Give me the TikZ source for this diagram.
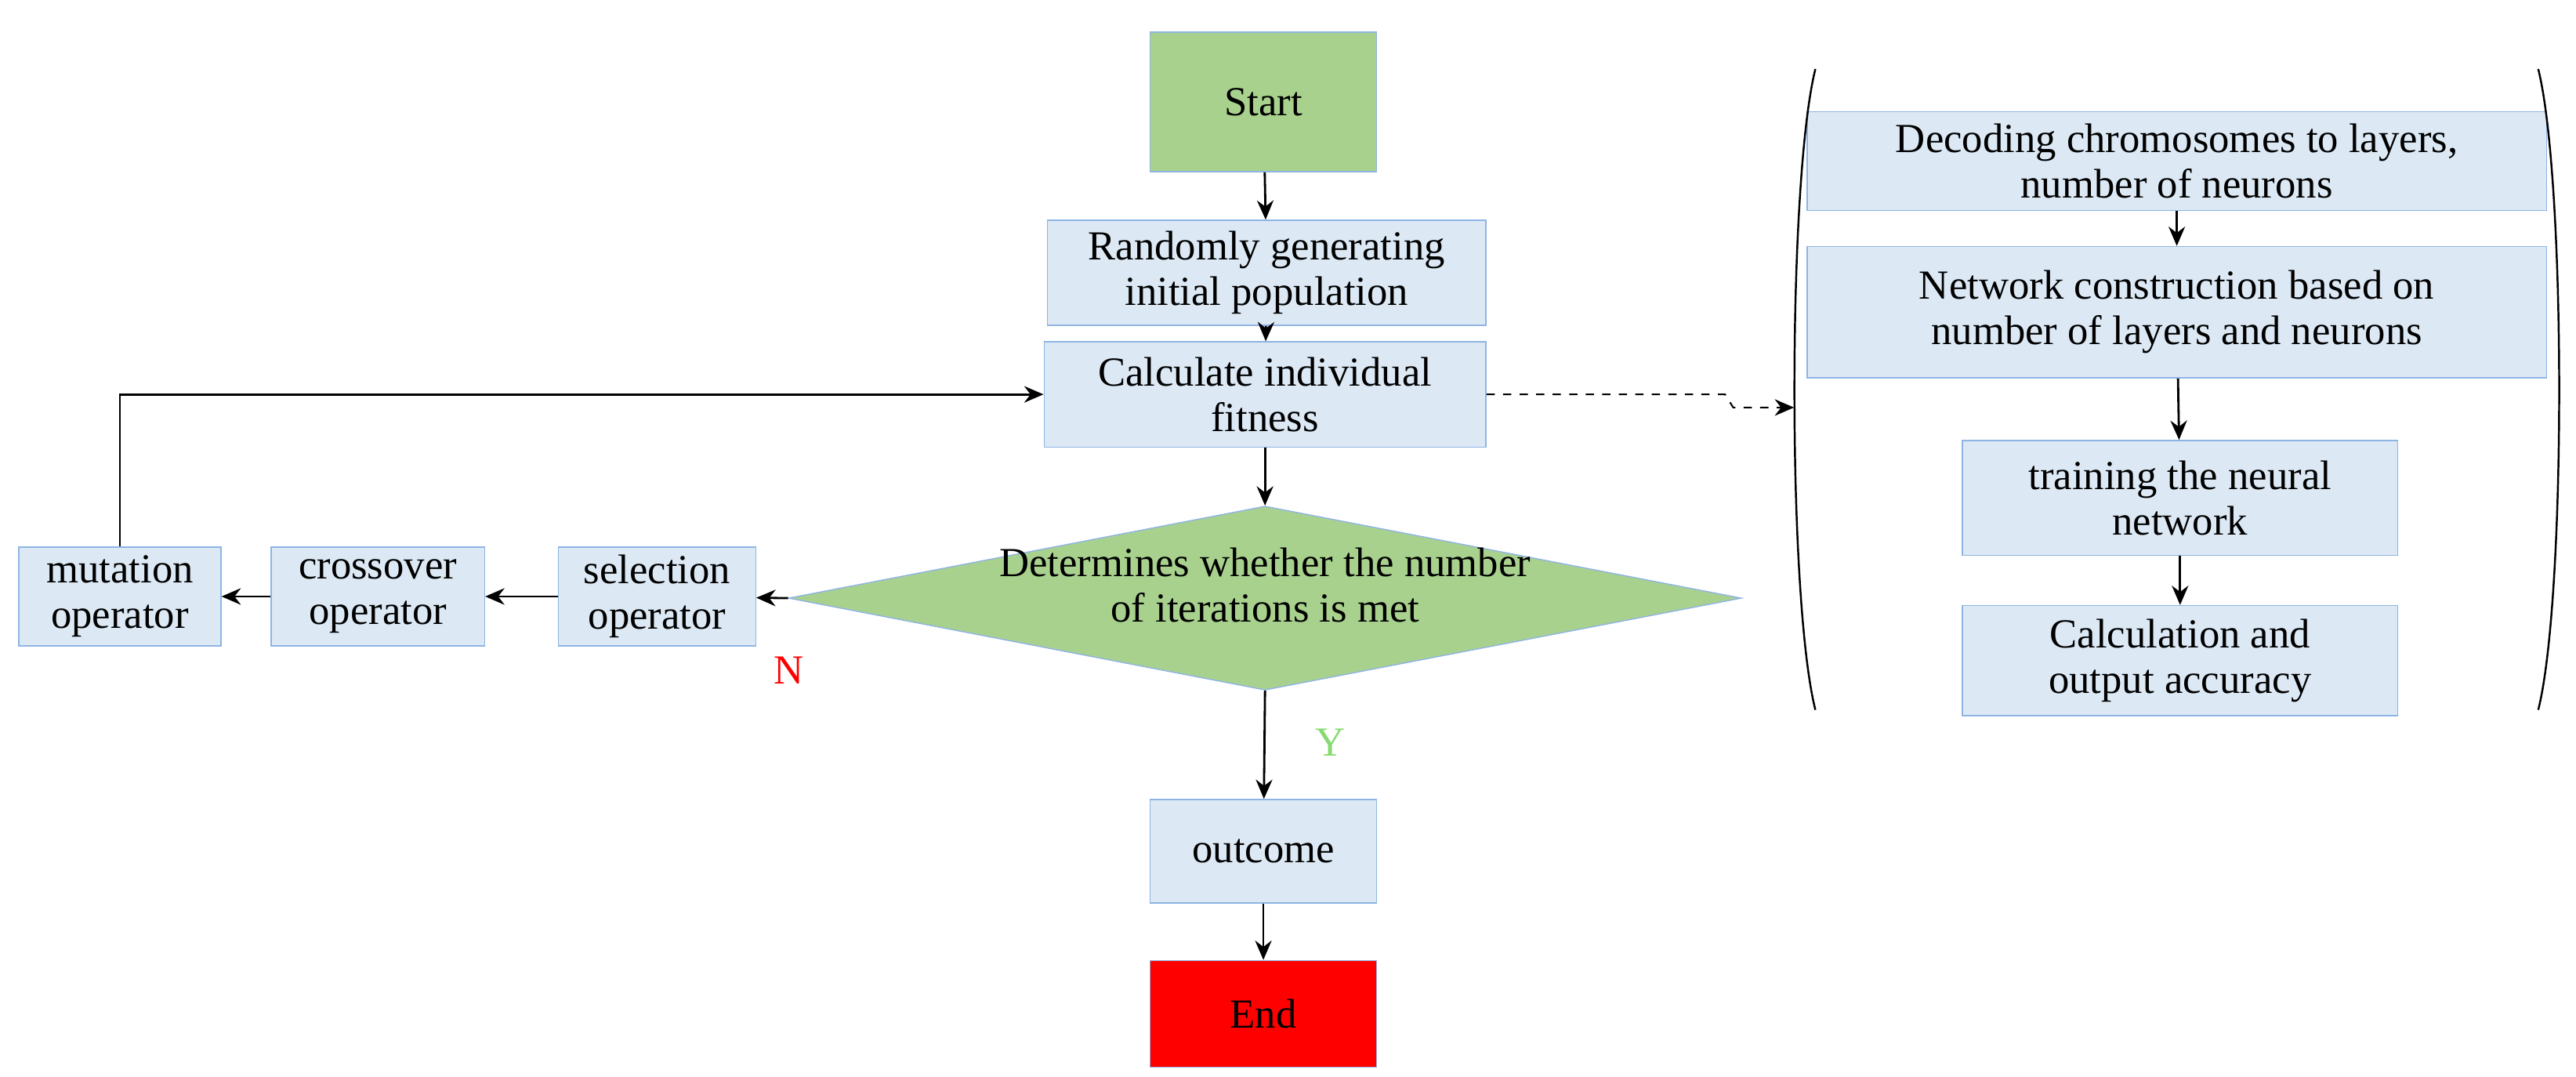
\documentclass[tikz,border=0pt]{standalone}
\usepackage{fontspec}
\setmainfont{Liberation Serif}
\usetikzlibrary{shapes.geometric,arrows.meta}
\definecolor{bfill}{HTML}{DCE9F5}
\definecolor{bdraw}{HTML}{8EB4E3}
\definecolor{gfill}{HTML}{A9D18E}
\begin{document}
\begin{tikzpicture}[x=0.02096cm,y=-0.02096cm,
  every node/.style={font=\fontsize{15}{16.5}\selectfont, align=center},
  box/.style={draw=bdraw, fill=bfill, minimum height=#1*0.02096cm, inner sep=1pt},
  arr/.style={-{Stealth[length=7pt,width=6pt]}, line width=0.8pt}]
\useasboundingbox (0,0) rectangle (1568,655);
\node[box=85, fill=gfill, minimum width=138*0.02096cm] (start) at (769,62) {Start};
\node[box=64, minimum width=267*0.02096cm] (rand) at (771,166) {Randomly generating\\initial population};
\node[box=64, minimum width=269*0.02096cm] (fit) at (770,240) {Calculate individual\\fitness};
\node[diamond, draw=bdraw, fill=gfill, aspect=5.2, minimum width=580*0.02096cm, minimum height=112*0.02096cm, inner sep=0pt] (dia) at (770,364) {};
\node at (770,356) {Determines whether the number\\of iterations is met};
\node[box=60, minimum width=120*0.02096cm] (sel) at (400,363) {selection\\operator};
\node[box=60, minimum width=130*0.02096cm] (cro) at (230,363) {crossover\\operator};
\node[box=60, minimum width=123*0.02096cm] (mut) at (73,363) {mutation\\operator};
\node[box=63, minimum width=138*0.02096cm] (out) at (769,518) {outcome};
\node[box=65, fill=red, minimum width=138*0.02096cm] (end) at (769,617) {End};
\node[box=60, minimum width=450*0.02096cm] (dec) at (1325,98) {Decoding chromosomes to layers,\\number of neurons};
\node[box=80, minimum width=450*0.02096cm] (net) at (1325,190) {Network construction based on\\number of layers and neurons};
\node[box=70, minimum width=265*0.02096cm] (tr) at (1327,303) {training the neural\\network};
\node[box=67, minimum width=265*0.02096cm] (acc) at (1327,402) {Calculation and\\output accuracy};
\draw[arr] (start) -- (rand);
\draw[arr] (rand) -- (fit);
\draw[arr] (fit) -- (dia);
\draw[arr] (dia.west) -- (sel);
\draw[arr] (sel) -- (cro);
\draw[arr] (cro) -- (mut);
\draw[arr] (mut.north) |- (fit.west);
\draw[arr] (dia.south) -- (out);
\draw[arr] (out) -- (end);
\draw[arr] (dec) -- (net);
\draw[arr] (net) -- (tr);
\draw[arr] (tr) -- (acc);
\coordinate (pl) at (1092,248);
\draw[arr, dashed, line width=0.6pt] (fit.east) -- (1050,240) -- (1055,248) -- (pl);
\draw[line width=0.7pt] (1105,42) .. controls (1088,110) and (1088,365) .. (1105,432);
\draw[line width=0.7pt] (1545,42) .. controls (1562,110) and (1562,365) .. (1545,432);
\node[text=red] (n) at (480,408) {N};
\node[text=gfill!80!green] (y) at (810,452) {Y};
\end{tikzpicture}
\end{document}
